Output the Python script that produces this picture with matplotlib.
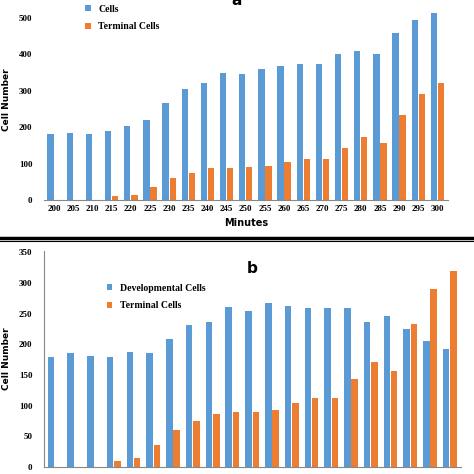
import matplotlib
matplotlib.use('Agg')
import matplotlib.pyplot as plt
import numpy as np
from matplotlib.lines import Line2D

minutes = list(range(200, 305, 5))
cells = [180, 185, 182, 190, 202, 220, 267, 305, 322, 348, 345, 360, 368, 372, 373, 400, 408, 402, 458, 495, 513]
terminal = [0, 0, 0, 10, 15, 35, 60, 75, 87, 89, 90, 93, 105, 112, 113, 143, 172, 157, 233, 290, 320]
developmental = [180, 186, 181, 180, 188, 186, 208, 232, 236, 261, 254, 267, 263, 260, 260, 259, 237, 246, 225, 206, 193]

BLUE = '#5B9BD5'
ORANGE = '#ED7D31'
serif = 'Liberation Serif'

fig = plt.figure(figsize=(4.74, 4.74), dpi=100)
x = np.arange(len(minutes))
w = 0.33

# panel a
ax1 = fig.add_axes([0.092, 0.578, 0.853, 0.422])
ax1.bar(x - w / 2 - 0.02, cells, w, color=BLUE, label='Cells')
ax1.bar(x + w / 2 + 0.02, terminal, w, color=ORANGE, label='Terminal Cells')
ax1.set_xlim(-0.55, len(x) - 0.45)
ax1.set_ylim(0, 549)
ax1.set_yticks([0, 100, 200, 300, 400, 500])
ax1.set_xticks(x)
ax1.set_xticklabels(minutes)
for s in ['top', 'right', 'left']:
    ax1.spines[s].set_visible(False)
ax1.spines['bottom'].set_color('#888888')
ax1.tick_params(length=0, labelsize=6.5)
ax1.tick_params(axis='y', pad=8)
for t in ax1.get_xticklabels() + ax1.get_yticklabels():
    t.set_fontfamily(serif)
    t.set_fontweight('bold')
ax1.set_xlabel('Minutes', fontsize=7, fontweight='bold', labelpad=4)
ax1.set_ylabel('Cell Number', fontsize=6.5, fontweight='bold', labelpad=6)
ax1.legend(loc='upper left', bbox_to_anchor=(0.08, 1.02), frameon=False,
           prop={'family': serif, 'weight': 'bold', 'size': 7},
           handlelength=0.6, handleheight=0.6, handletextpad=0.8, labelspacing=0.9)
fig.text(0.5, 0.998, 'a', ha='center', va='center', fontsize=11, fontweight='bold')

# separator
fig.add_artist(Line2D([0, 1], [0.498, 0.498], color='black', lw=2.5, transform=fig.transFigure))
fig.add_artist(Line2D([0, 1], [0.492, 0.492], color='black', lw=0.8, transform=fig.transFigure))

# panel b
ax2 = fig.add_axes([0.092, 0.015, 0.88, 0.455])
ax2.bar(x - w / 2 - 0.02, developmental, w, color=BLUE, label='Developmental Cells')
ax2.bar(x + w / 2 + 0.02, terminal, w, color=ORANGE, label='Terminal Cells')
ax2.set_xlim(-0.55, len(x) - 0.45)
ax2.set_ylim(0, 352)
ax2.set_yticks(range(0, 351, 50))
ax2.set_xticks([])
for s in ['top', 'right']:
    ax2.spines[s].set_visible(False)
ax2.spines['bottom'].set_color('#888888')
ax2.spines['left'].set_color('#888888')
ax2.tick_params(length=0, labelsize=6.5, pad=8)
for t in ax2.get_yticklabels():
    t.set_fontfamily(serif)
    t.set_fontweight('bold')
ax2.set_ylabel('Cell Number', fontsize=6.5, fontweight='bold', labelpad=6)
ax2.set_title('b', fontsize=11, fontweight='bold', y=0.86)
ax2.legend(loc='upper left', bbox_to_anchor=(0.13, 0.89), frameon=False,
           prop={'family': serif, 'weight': 'bold', 'size': 7},
           handlelength=0.6, handleheight=0.6, handletextpad=0.8, labelspacing=0.9)

fig.savefig('out.png', dpi=100)
